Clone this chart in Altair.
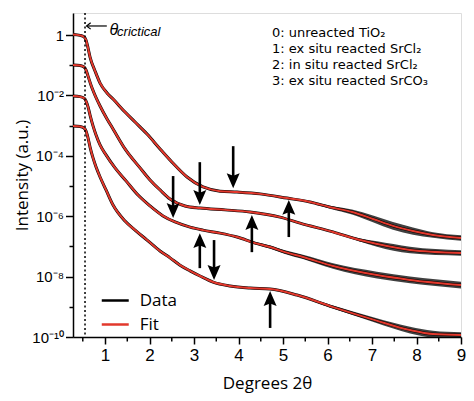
import altair as alt
import pandas as pd

RED = "#e2382c"

# ---- curves: x (degrees 2theta), log10 intensity, noise half-spread (decades) ----
x0 = [0.281, 0.438, 0.528, 0.573, 0.618, 0.663, 0.775, 0.888, 1.045, 1.180, 1.449, 1.674, 1.944, 2.236, 2.506,
      2.843, 3.202, 3.584, 3.966, 4.483, 5.090, 5.607, 6.056, 6.551, 7.022, 7.472, 7.921, 8.371, 9.000]
e0 = [0.02, -0.01, -0.06, -0.17, -0.43, -0.73, -1.19, -1.59, -1.92, -2.12, -2.55, -2.88, -3.28, -3.77, -4.21,
      -4.70, -5.03, -5.17, -5.20, -5.26, -5.40, -5.53, -5.70, -5.86, -6.09, -6.32, -6.49, -6.62, -6.72]
s0 = [0.02] * 22 + [0.05, 0.08, 0.11, 0.13, 0.12, 0.09, 0.09]

x1 = [0.281, 0.438, 0.528, 0.573, 0.618, 0.685, 0.753, 0.888, 1.045, 1.180, 1.449, 1.787, 2.011, 2.236, 2.461,
      2.798, 3.135, 3.697, 4.258, 4.933, 5.382, 6.124, 6.730, 7.112, 7.854, 9.000]
e1 = [-0.99, -1.01, -1.06, -1.16, -1.36, -1.66, -1.92, -2.35, -2.78, -3.11, -3.77, -4.40, -4.80, -5.13, -5.43,
      -5.66, -5.73, -5.79, -5.86, -6.03, -6.23, -6.52, -6.79, -6.92, -7.12, -7.22]
s1 = [0.02] * 22 + [0.05, 0.09, 0.11, 0.09]

x2 = [0.281, 0.438, 0.528, 0.573, 0.618, 0.663, 0.730, 0.798, 0.888, 1.022, 1.225, 1.472, 1.742, 2.011, 2.303,
      2.573, 2.910, 3.202, 3.584, 3.966, 4.371, 4.708, 5.045, 5.449, 6.124, 7.112, 7.854, 9.000]
e2 = [-2.02, -2.04, -2.09, -2.19, -2.38, -2.65, -3.01, -3.31, -3.64, -3.97, -4.40, -4.83, -5.30, -5.66, -5.99,
      -6.19, -6.36, -6.46, -6.56, -6.69, -6.89, -7.02, -7.19, -7.35, -7.65, -7.95, -8.11, -8.28]
s2 = [0.02] * 20 + [0.04, 0.05, 0.06, 0.07, 0.09, 0.11, 0.11, 0.11]

x3 = [0.281, 0.438, 0.528, 0.573, 0.618, 0.663, 0.730, 0.798, 0.888, 1.022, 1.180, 1.449, 1.674, 1.944, 2.236,
      2.461, 2.685, 2.910, 3.135, 3.427, 3.809, 4.258, 4.708, 5.315, 6.124, 7.067, 7.854, 8.371, 9.000]
e3 = [-3.01, -3.03, -3.08, -3.18, -3.41, -3.71, -4.07, -4.37, -4.70, -5.13, -5.63, -6.16, -6.46, -6.79, -7.15,
      -7.38, -7.62, -7.81, -7.98, -8.18, -8.31, -8.38, -8.41, -8.61, -9.01, -9.44, -9.77, -9.90, -9.93]
s3 = [0.02] * 24 + [0.05, 0.08, 0.11, 0.11, 0.09]

# ---- arrows (x, tail exponent, tip exponent) ----
arrow_x = [2.53, 3.13, 3.88, 4.30, 5.13, 3.13, 3.45, 4.71]
arrow_tail = [-4.67, -4.21, -3.68, -7.19, -6.69, -7.72, -6.79, -9.70]
arrow_tip = [-6.06, -5.63, -5.07, -5.96, -5.46, -6.56, -8.11, -8.48]

theta_c = 0.55
sample_labels = ["0: unreacted TiO₂", "1: ex situ reacted SrCl₂",
                 "2: in situ reacted SrCl₂", "3: ex situ reacted SrCO₃"]
x_major = [float(v) for v in range(1, 10)]
x_minor = [0.5 + v for v in range(0, 9)]
y_ticks = [10.0 ** k for k in range(-10, 1)]

rows = []
for k, (xs, es, ss) in enumerate([(x0, e0, s0), (x1, e1, s1), (x2, e2, s2), (x3, e3, s3)]):
    for x, e, s in zip(xs, es, ss):
        rows.append(dict(curve=k, x=x, I=10 ** e, lo=10 ** (e - s), hi=10 ** (e + s)))
df = pd.DataFrame(rows)

arr = pd.DataFrame(dict(x=arrow_x,
                        tail=[10 ** v for v in arrow_tail],
                        tip=[10 ** v for v in arrow_tip],
                        dir=["down" if t < a else "up" for a, t in zip(arrow_tail, arrow_tip)]))

xscale = alt.Scale(domain=[0.28, 9], nice=False, zero=False)
yscale = alt.Scale(type="log", domain=[1e-10, 10 ** 0.73], nice=False)

exp_expr = "abs(round(log(datum.value)/LN10))"
sup_expr = ("replace(replace(replace(replace(replace(replace(format(" + exp_expr +
            ",'d'),'0','⁰'),'1','¹'),'2','²'),'4','⁴'),'6','⁶'),'8','⁸')")
y_label_expr = ("datum.value > 0.5 ? '1' : (" + exp_expr + " % 2 == 1 ? '' : '10⁻' + " + sup_expr + ")")

x_axis = alt.Axis(values=x_major, format="d", tickSize=7,
                  title="Degrees 2θ", titleFont="Open Sans", titleFontSize=17, titleFontWeight="normal",
                  titleColor="black", titleY=51, titleBaseline="alphabetic",
                  labelFont="Liberation Sans", labelFontSize=17, labelColor="black", labelPadding=3,
                  labelFlush=False, labelOverlap=False, grid=False, domainColor="black", domainWidth=1.5,
                  tickColor="black", tickWidth=1.5)
y_axis = alt.Axis(values=y_ticks, labelExpr=y_label_expr,
                  tickSize={"condition": {"test": exp_expr + " % 2 == 0", "value": 7.5}, "value": 4},
                  title="Intensity (a.u.)", titleFont="Open Sans", titleFontSize=17, titleFontWeight="normal",
                  titleColor="black", titleX=-46, titleY=162, titleBaseline="alphabetic", titleAngle=270,
                  titleAlign="center",
                  labelFont="Liberation Sans", labelFontSize=15, labelColor="black", labelPadding=2,
                  labelOverlap=False, labelFlush=False, grid=False, domainColor="black", domainWidth=1.5,
                  tickColor="black", tickWidth=1.5)

base = alt.Chart(df)
X = alt.X("x:Q", scale=xscale, axis=x_axis)

band = base.mark_area(color="black", opacity=0.75, interpolate="monotone").encode(
    x=X, y=alt.Y("lo:Q", scale=yscale, axis=y_axis), y2="hi:Q", detail="curve:N")

legend = alt.Legend(title=None, orient="none", legendX=33.75, legendY=279, symbolType="M-2,0L2,0",
                    symbolSize=182, symbolStrokeWidth=2.5, labelFont="Open Sans", labelFontSize=17,
                    labelColor="black", labelOffset=16, rowPadding=6, padding=0)
color = alt.Color("series:N", scale=alt.Scale(domain=["Data", "Fit"], range=["#000000", RED]), legend=legend)

data_line = base.transform_calculate(series="'Data'").mark_line(strokeWidth=3, interpolate="monotone").encode(
    x=X, y=alt.Y("I:Q", scale=yscale), detail="curve:N", color=color)
fit_line = base.transform_calculate(series="'Fit'").mark_line(strokeWidth=2, interpolate="monotone").encode(
    x=X, y=alt.Y("I:Q", scale=yscale), detail="curve:N", color=color)

# minor x ticks (half-degree marks) below the axis line
minor = alt.Chart(pd.DataFrame({"x": x_minor})).mark_rule(color="black", strokeWidth=1.5).encode(
    x=alt.X("x:Q", scale=xscale), y=alt.value(324), y2=alt.value(328.5))

crit = alt.Chart(pd.DataFrame({"x": [theta_c]})).mark_rule(
    color="black", strokeWidth=1.5, strokeDash=[2, 2.5]).encode(x=alt.X("x:Q", scale=xscale))

ab = alt.Chart(arr).transform_calculate(
    shaft_end="datum.dir == 'down' ? datum.tip * pow(10, 0.25) : datum.tip * pow(10, -0.25)")
shafts = ab.mark_rule(color="black", strokeWidth=2.6).encode(
    x=alt.X("x:Q", scale=xscale), y=alt.Y("tail:Q", scale=yscale), y2="shaft_end:Q")
heads_down = ab.transform_filter("datum.dir == 'down'").mark_point(
    shape="M0,0L-1,-2.3L0,-1.9L1,-2.3Z", size=169, filled=True, opacity=1, color="black", strokeWidth=0).encode(
    x=alt.X("x:Q", scale=xscale), y=alt.Y("tip:Q", scale=yscale))
heads_up = ab.transform_filter("datum.dir == 'up'").mark_point(
    shape="M0,0L-1,2.3L0,1.9L1,2.3Z", size=169, filled=True, opacity=1, color="black", strokeWidth=0).encode(
    x=alt.X("x:Q", scale=xscale), y=alt.Y("tip:Q", scale=yscale))

# theta critical annotation
ann = alt.Chart(pd.DataFrame({"a": [0]}))
ann_shaft = ann.mark_rule(color="black", strokeWidth=1.2).encode(
    x=alt.datum(0.59, scale=xscale), x2=alt.datum(1.04), y=alt.datum(10 ** 0.30, scale=yscale))
ann_head = ann.mark_point(shape="M1.3,-1L0,0L1.3,1", size=40, filled=False, color="black", strokeWidth=1.2,
                          opacity=1).encode(x=alt.datum(0.585, scale=xscale), y=alt.datum(10 ** 0.30, scale=yscale))
ann_theta = ann.mark_text(text="θ", font="Liberation Sans", fontStyle="italic", fontSize=16, align="left",
                          baseline="alphabetic", color="black").encode(
    x=alt.datum(1.10, scale=xscale), y=alt.datum(1.0, scale=yscale))
ann_sub = ann.mark_text(text="crictical", font="Liberation Sans", fontStyle="italic", fontSize=13, align="left",
                        baseline="alphabetic", color="black", dy=1).encode(
    x=alt.datum(1.27, scale=xscale), y=alt.datum(1.0, scale=yscale))

texts = []
for i, line in enumerate(sample_labels):
    texts.append(ann.mark_text(text=line, font="DejaVu Sans", fontSize=13, align="left",
                               baseline="alphabetic", color="black").encode(
        x=alt.value(199), y=alt.value(23.5 + 16 * i)))

chart = alt.layer(band, data_line, fit_line, minor, crit, shafts, heads_down, heads_up,
                  ann_shaft, ann_head, ann_theta, ann_sub, *texts).properties(
    width=388, height=324,
    padding={"left": 73, "top": 13, "right": 13, "bottom": 64},
    autosize=alt.AutoSizeParams(type="none"),
).configure_view(stroke="#555555", strokeWidth=1.2).configure(background="white")

chart.save("out.html", embed_options={"renderer": "svg", "actions": False})
